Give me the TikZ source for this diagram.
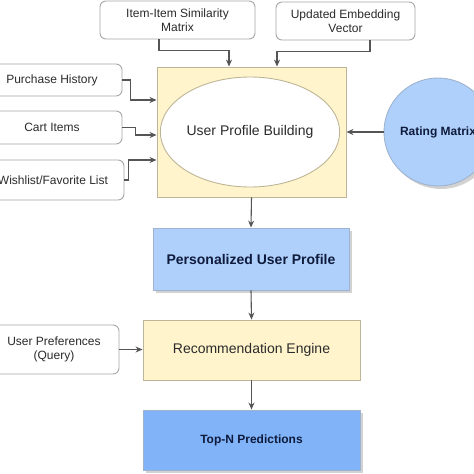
\documentclass[tikz,border=0pt]{standalone}
\usepackage{fontspec}
\setmainfont{Liberation Sans}
\usetikzlibrary{shapes.geometric,arrows.meta,shadows}
\definecolor{yfill}{HTML}{FFF4CC}
\definecolor{yline}{HTML}{BDB596}
\definecolor{bfill}{HTML}{AFD0FA}
\definecolor{bdark}{HTML}{80B3F7}
\definecolor{bline}{HTML}{9DB3CF}
\definecolor{navy}{HTML}{0F1B3D}
\definecolor{txt}{HTML}{2B2B2B}
\definecolor{arrc}{HTML}{555555}
\tikzset{
  inbox/.style={draw=gray!70, line width=0.9pt, rounded corners=6pt, fill=white, text=txt, font=\fontsize{12}{14}\selectfont, align=center, inner sep=0pt},
  ybox/.style={draw=yline, line width=0.9pt, fill=yfill, text=txt, inner sep=0pt},
  bbox/.style={draw=bline, line width=0.9pt, text=navy, inner sep=0pt, font=\bfseries,
    drop shadow={shadow xshift=3pt, shadow yshift=-3pt, opacity=0.35, fill=gray}},
  arr/.style={draw=arrc, line width=1.1pt, -{Stealth[length=7pt,width=6pt]}},
}
\begin{document}
\begin{tikzpicture}[x=1pt,y=-1pt]
\useasboundingbox (0,0) rectangle (474,474);
\fill[white] (0,0) rectangle (474,474);
\clip (0,0) rectangle (474,474);
% top inputs
\node[inbox, minimum width=155pt, minimum height=38pt] (sim) at (177.5,20) {Item-Item Similarity\\Matrix};
\node[inbox, minimum width=139pt, minimum height=38pt] (emb) at (345.5,21) {Updated Embedding\\Vector};
% user profile building
\node[ybox, minimum width=189pt, minimum height=130pt] (upb) at (251.5,132) {};
\node[ellipse, draw=yline, line width=0.9pt, fill=white, minimum width=163pt, minimum height=110pt, inner sep=0pt, text=txt, font=\fontsize{14}{16}\selectfont] (ell) at (250,132) {User Profile Building};
% left inputs
\node[inbox, minimum width=140pt, minimum height=32pt] (ph) at (52,80) {Purchase History};
\node[inbox, minimum width=140pt, minimum height=33pt] (cart) at (52,127.5) {Cart Items};
\node[inbox, minimum width=142pt, minimum height=40pt] (wish) at (53,180) {Wishlist/Favorite List};
% rating matrix
\node[circle, draw=bline, line width=0.9pt, fill=bfill, minimum size=108pt, inner sep=0pt, text=navy, font=\fontsize{12}{14}\selectfont\bfseries,
  drop shadow={shadow xshift=3pt, shadow yshift=-3pt, opacity=0.35, fill=gray}] (rm) at (438,132) {Rating Matrix};
% personalized user profile
\node[bbox, fill=bfill, minimum width=196pt, minimum height=62pt, font=\fontsize{14}{16}\selectfont\bfseries] (pup) at (251,259) {Personalized User Profile};
% recommendation engine
\node[ybox, minimum width=217pt, minimum height=60pt, font=\fontsize{14}{16}\selectfont] (rec) at (251.5,350) {Recommendation Engine};
\node[inbox, minimum width=130pt, minimum height=49pt] (pref) at (54,349.5) {User Preferences\\(Query)};
% top-n
\node[bbox, fill=bdark, minimum width=217pt, minimum height=60pt, font=\fontsize{12}{14}\selectfont\bfseries] (top) at (251.5,440) {Top-N Predictions};
% connectors
\draw[arr] ([xshift=-18.5pt]sim.south) -- ++(0,11) -| ([xshift=-22.5pt]upb.north);
\draw[arr] ([xshift=24.5pt]emb.south) -- ++(0,11) -| ([xshift=25.5pt]upb.north);
\draw[arr] (ph.east) -- ++(8,0) |- ([yshift=32pt]upb.west);
\draw[arr] (cart.east) -- ++(13,0) |- ([yshift=-3pt]upb.west);
\draw[arr] (wish.east) -- ++(4,0) |- ([yshift=-28pt]upb.west);
\draw[arr] (rm.west) -- (upb.east);
\draw[arr] (upb.south) -- (pup.north);
\draw[arr] (pup.south) -- (rec.north);
\draw[arr] (pref.east) -- (pref.east -| rec.west);
\draw[arr] (rec.south) -- (top.north);
\end{tikzpicture}
\end{document}
